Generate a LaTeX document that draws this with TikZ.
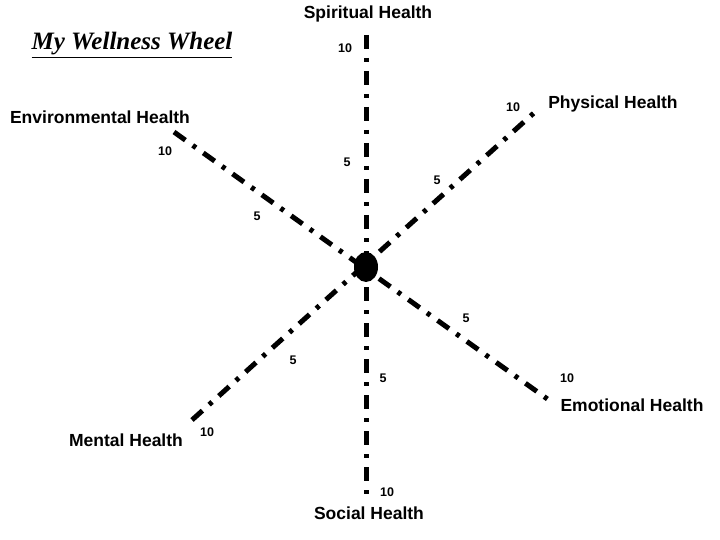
\documentclass[tikz,border=0pt]{standalone}
\usepackage{fontspec}
\setmainfont{Liberation Sans}
\newfontfamily\titlefont{Liberation Serif}
\tikzset{
 spoke/.style={line width=5pt, dash pattern=on 14pt off 9pt on 4pt off 9pt},
 lab/.style={font=\bfseries\fontsize{17.5}{20}\selectfont, inner sep=0},
 num/.style={font=\bfseries\fontsize{12.5}{14}\selectfont, inner sep=0},
 hub/.style={ellipse, fill=black, minimum width=24pt, minimum height=30pt, inner sep=0}
}
\usetikzlibrary{shapes.geometric}
\begin{document}
\begin{tikzpicture}[x=1pt,y=-1pt]
\useasboundingbox (0,0) rectangle (720,540);
\coordinate (c) at (366,267);
\coordinate (top) at (366,35);
\coordinate (bot) at (366,502);
\coordinate (ph) at (535,112);
\coordinate (en) at (174,132);
\coordinate (em) at (553,403);
\coordinate (me) at (192,420);
\draw[spoke] (top) -- (bot);
\draw[spoke] (en) -- (em);
\draw[spoke] (me) -- (ph);
\node[hub] (h) at (c) {};
\node[font=\titlefont\bfseries\itshape\fontsize{25}{28}\selectfont, inner sep=0] (t) at (132,45) {\underline{My Wellness Wheel}};
\node[lab] (l1) at (368,14) {Spiritual Health};
\node[lab] (l2) at (613,104) {Physical Health};
\node[lab] (l3) at (100,117) {Environmental Health};
\node[lab] (l4) at (632,405) {Emotional Health};
\node[lab] (l5) at (126,440) {Mental Health};
\node[lab] (l6) at (369,513) {Social Health};
\node[num] (n1) at (345,48) {10};
\node[num] (n2) at (347,162) {5};
\node[num] (n3) at (513,107) {10};
\node[num] (n4) at (437,180) {5};
\node[num] (n5) at (165,151) {10};
\node[num] (n6) at (257,216) {5};
\node[num] (n7) at (466,318) {5};
\node[num] (n8) at (567,378) {10};
\node[num] (n9) at (293,360) {5};
\node[num] (n10) at (207,432) {10};
\node[num] (n11) at (383,378) {5};
\node[num] (n12) at (387,492) {10};
\end{tikzpicture}
\end{document}
